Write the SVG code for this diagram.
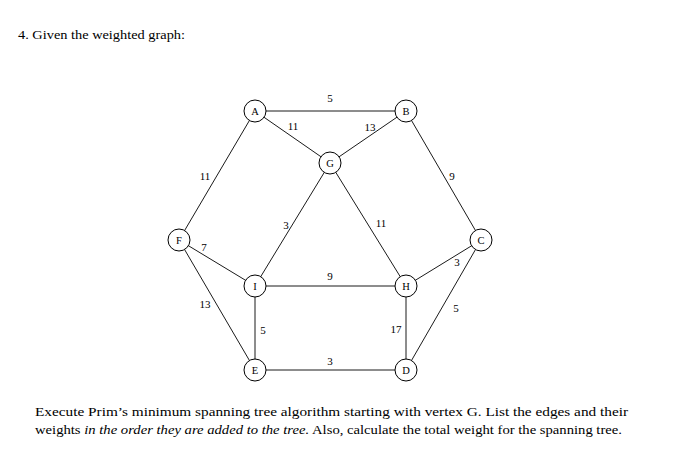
<svg xmlns="http://www.w3.org/2000/svg" width="673" height="475" viewBox="0 0 673 475">
<style>
text{font-family:"Liberation Serif","DejaVu Serif",serif;fill:#000}
.t{font-size:13.5px}
.n circle{fill:#fff;stroke:#000;stroke-width:1}
.n text{font-size:10.5px;text-anchor:middle}
.w{font-size:11px;text-anchor:middle}
#edges line{stroke:#000;stroke-width:0.9}
</style>
<rect width="673" height="475" fill="#fff"/>
<text class="t" x="18" y="39" textLength="167" lengthAdjust="spacingAndGlyphs">4. Given the weighted graph:</text>
<g id="edges">
<line x1="255" y1="111" x2="406" y2="111"/>
<line x1="255" y1="111" x2="330" y2="163"/>
<line x1="406" y1="111" x2="330" y2="163"/>
<line x1="255" y1="111" x2="179" y2="240"/>
<line x1="406" y1="111" x2="481" y2="240"/>
<line x1="330" y1="163" x2="255" y2="286"/>
<line x1="330" y1="163" x2="406" y2="286"/>
<line x1="179" y1="240" x2="255" y2="286"/>
<line x1="179" y1="240" x2="255" y2="370"/>
<line x1="255" y1="286" x2="406" y2="286"/>
<line x1="255" y1="286" x2="255" y2="370"/>
<line x1="406" y1="286" x2="481" y2="240"/>
<line x1="406" y1="286" x2="406" y2="370"/>
<line x1="481" y1="240" x2="406" y2="370"/>
<line x1="255" y1="370" x2="406" y2="370"/>
<text class="w" x="330" y="102">5</text>
<text class="w" x="293" y="130">11</text>
<text class="w" x="370" y="131">13</text>
<text class="w" x="205" y="180">11</text>
<text class="w" x="452" y="180">9</text>
<text class="w" x="286" y="229">3</text>
<text class="w" x="381" y="227">11</text>
<text class="w" x="204" y="251">7</text>
<text class="w" x="457" y="266">3</text>
<text class="w" x="330" y="280">9</text>
<text class="w" x="205" y="308">13</text>
<text class="w" x="263" y="334">5</text>
<text class="w" x="396" y="333">17</text>
<text class="w" x="456" y="312">5</text>
<text class="w" x="330" y="365">3</text>
</g>
<g id="A" class="n"><circle cx="255" cy="111" r="11"/><text x="255" y="115">A</text></g>
<g id="B" class="n"><circle cx="406" cy="111" r="11"/><text x="406" y="115">B</text></g>
<g id="G" class="n"><circle cx="330" cy="163" r="11"/><text x="330" y="167">G</text></g>
<g id="F" class="n"><circle cx="179" cy="240" r="11"/><text x="179" y="244">F</text></g>
<g id="C" class="n"><circle cx="481" cy="240" r="11"/><text x="481" y="244">C</text></g>
<g id="I" class="n"><circle cx="255" cy="286" r="11"/><text x="255" y="290">I</text></g>
<g id="H" class="n"><circle cx="406" cy="286" r="11"/><text x="406" y="290">H</text></g>
<g id="E" class="n"><circle cx="255" cy="370" r="11"/><text x="255" y="374">E</text></g>
<g id="D" class="n"><circle cx="406" cy="370" r="11"/><text x="406" y="374">D</text></g>
<text class="t" x="35" y="416" textLength="593" lengthAdjust="spacingAndGlyphs">Execute Prim’s minimum spanning tree algorithm starting with vertex G. List the edges and their</text>
<text class="t" x="35" y="434" textLength="587" lengthAdjust="spacingAndGlyphs">weights <tspan font-style="italic">in the order they are added to the tree.</tspan> Also, calculate the total weight for the spanning tree.</text>
</svg>
